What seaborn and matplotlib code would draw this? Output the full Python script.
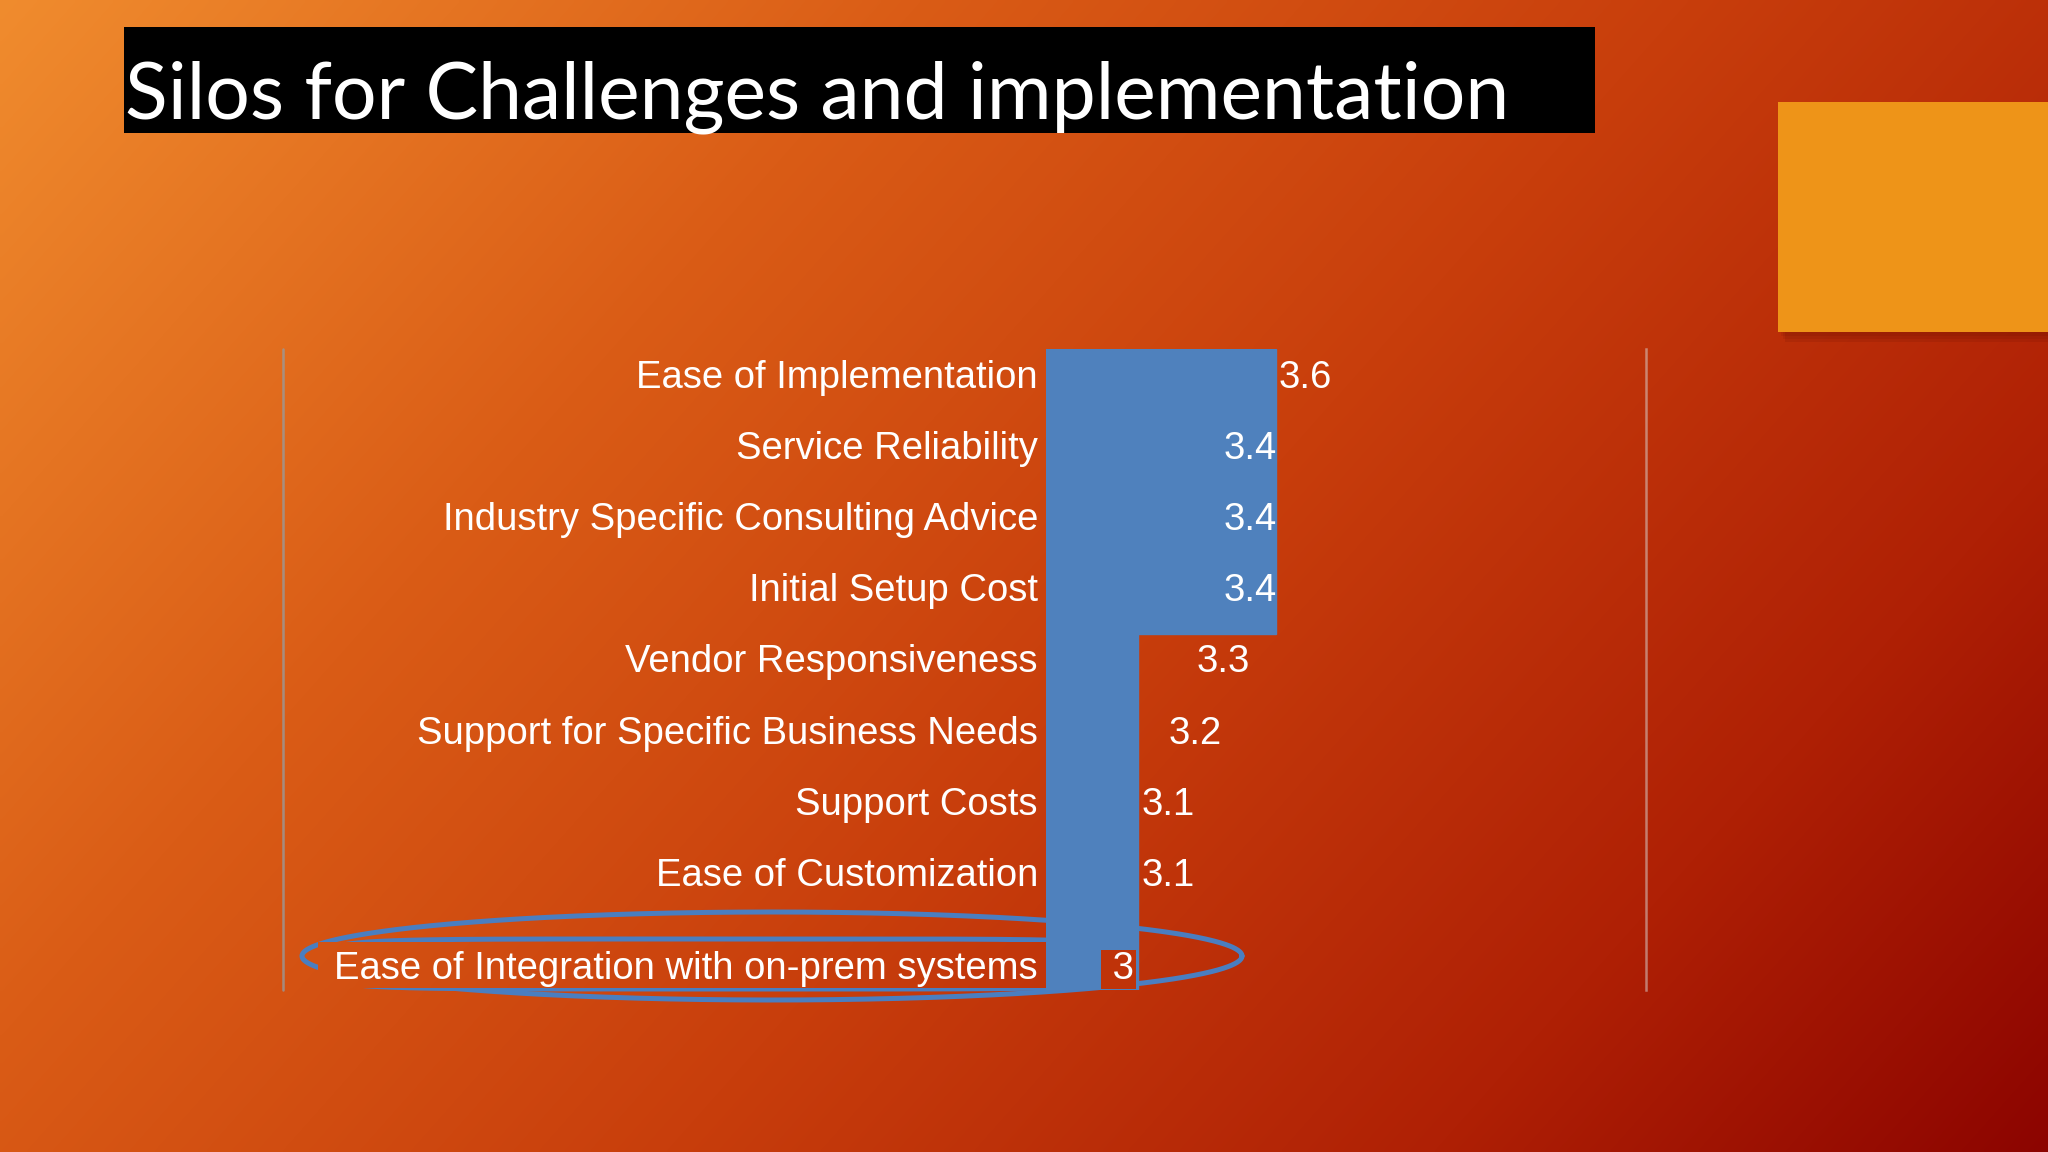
import numpy as np
import pandas as pd
import matplotlib
matplotlib.use("Agg")
import matplotlib.pyplot as plt
import seaborn as sns
from matplotlib.patches import Rectangle

# ---------------- data ----------------
categories = [
    "Ease of Implementation",
    "Service Reliability",
    "Industry Specific Consulting Advice",
    "Initial Setup Cost",
    "Vendor Responsiveness",
    "Support for Specific Business Needs",
    "Support Costs",
    "Ease of Customization",
    "Ease of Integration with on-prem systems",
]
values = [3.6, 3.4, 3.4, 3.4, 3.3, 3.2, 3.1, 3.1, 3.0]
value_labels = ["3.6", "3.4", "3.4", "3.4", "3.3", "3.2", "3.1", "3.1", "3"]
# bar lengths as they are rendered in the picture
bar_extent = [3.6, 3.6, 3.6, 3.6, 3.1, 3.1, 3.1, 3.1, 3.1]
title = "Silos for Challenges and implementation"

# ---------------- figure ----------------
W, H, DPI = 2048, 1152, 100
sns.set_theme(style="white")
plt.rcParams["font.family"] = ["Liberation Sans", "DejaVu Sans"]

fig = plt.figure(figsize=(W / DPI, H / DPI), dpi=DPI)


def grad_rgb(px, py):
    u = np.asarray(px, float) / W
    v = np.asarray(py, float) / H
    t = np.clip((0.7 * u + 0.35 * v) / 1.05, 0, 1)
    stops = np.array([0, 0.3, 0.55, 0.8, 1.0])
    cols = np.array([[240, 140, 46], [218, 92, 22], [200, 62, 12],
                     [175, 32, 5], [140, 4, 0]]) / 255.0
    return np.stack([np.interp(t, stops, cols[:, i]) for i in range(3)], axis=-1)


# background layer (pixel coordinates)
bg = fig.add_axes([0, 0, 1, 1], zorder=0)
yy, xx = np.mgrid[0:H:4, 0:W:4]
bg.imshow(grad_rgb(xx + 2, yy + 2), extent=(0, W, H, 0), aspect="auto",
          interpolation="bilinear", zorder=0)

# title box
bg.add_patch(Rectangle((124, 27), 1471, 106, facecolor="black", edgecolor="none", zorder=2))

# orange decorative box with shadow
for k, a in enumerate([0.10, 0.10, 0.12]):
    bg.add_patch(Rectangle((1778 + 3 + k * 2, 106 + k * 3), 270, 230,
                           facecolor="#5a0a00", edgecolor="none", alpha=a, zorder=2))
bg.add_patch(Rectangle((1778, 102), 270, 230, facecolor="#EE9418", edgecolor="none", zorder=3))

# left chart border line
bg.plot([283, 283], [349, 990], color=(0.6, 0.6, 0.6, 0.8), lw=1.8, zorder=2)

# hand-drawn highlight loop
th = np.linspace(0, 2 * np.pi, 800)
bg.plot(772 + 470 * np.cos(th), 956 + 44 * np.sin(th), color="#4A7EC0", lw=3.6, zorder=4)
n = 6.0
c, s = np.cos(th), np.sin(th)
bg.plot(732 + 403 * np.sign(c) * np.abs(c) ** (2 / n),
        964 + 25 * np.sign(s) * np.abs(s) ** (2 / n),
        color="#4A7EC0", lw=3.6, zorder=4)

# label backing box for the highlighted row
cy, cx = np.mgrid[942:988:2, 318:1046:2]
bg.imshow(grad_rgb(cx, cy), extent=(318, 1046, 988, 942), aspect="auto",
          interpolation="bilinear", zorder=5)

bg.set_xlim(0, W)
bg.set_ylim(H, 0)
bg.axis("off")

# title text
fig.text(125 / W, 1 - 118 / H, title, color="white", fontsize=56.8,
         family=["Lato", "DejaVu Sans"], va="baseline", ha="left", zorder=10)

# ---------------- bar chart ----------------
ax = fig.add_axes([1046 / W, 1 - 990 / H, 600 / W, 641 / H], zorder=1)
ax.patch.set_alpha(0)
df = pd.DataFrame({"category": categories, "extent": bar_extent})
sns.barplot(data=df, x="extent", y="category", orient="h", color="#4F81BD",
            saturation=1, width=1.0, edgecolor="#4F81BD", linewidth=1, ax=ax)
ax.set_xlim(2.764, 4.946)
ax.set_ylim(8.5, -0.5)

pos = [i - 0.155 for i in range(len(categories) - 1)] + [len(categories) - 1 + 0.155]
ax.set_yticks(pos, labels=categories)
ax.set_xticks([])
ax.tick_params(axis="y", length=0, pad=5.8, labelsize=27.5, labelcolor="white")
ax.set_xlabel("")
ax.set_ylabel("")
for sp in ["left", "top", "bottom"]:
    ax.spines[sp].set_visible(False)
ax.spines["right"].set_visible(True)
ax.spines["right"].set_edgecolor((0.85, 0.85, 0.85, 0.5))
ax.spines["right"].set_linewidth(1.8)

for i, (v, lab) in enumerate(zip(values, value_labels)):
    if i == len(values) - 1:
        ax.annotate(" " + lab, xy=(v, pos[i]), xytext=(-6.2, 0), textcoords="offset points",
                    ha="left", va="center_baseline", color="white", fontsize=27.5,
                    annotation_clip=False, zorder=5,
                    bbox=dict(boxstyle="square,pad=0.04", fc=tuple(grad_rgb(1120, 963)), ec="none"))
    else:
        ax.annotate(lab, xy=(v, pos[i]), xytext=(2, 0), textcoords="offset points",
                    ha="left", va="center_baseline", color="white", fontsize=27.5,
                    annotation_clip=False, zorder=5)

fig.savefig("out.png", dpi=DPI)
